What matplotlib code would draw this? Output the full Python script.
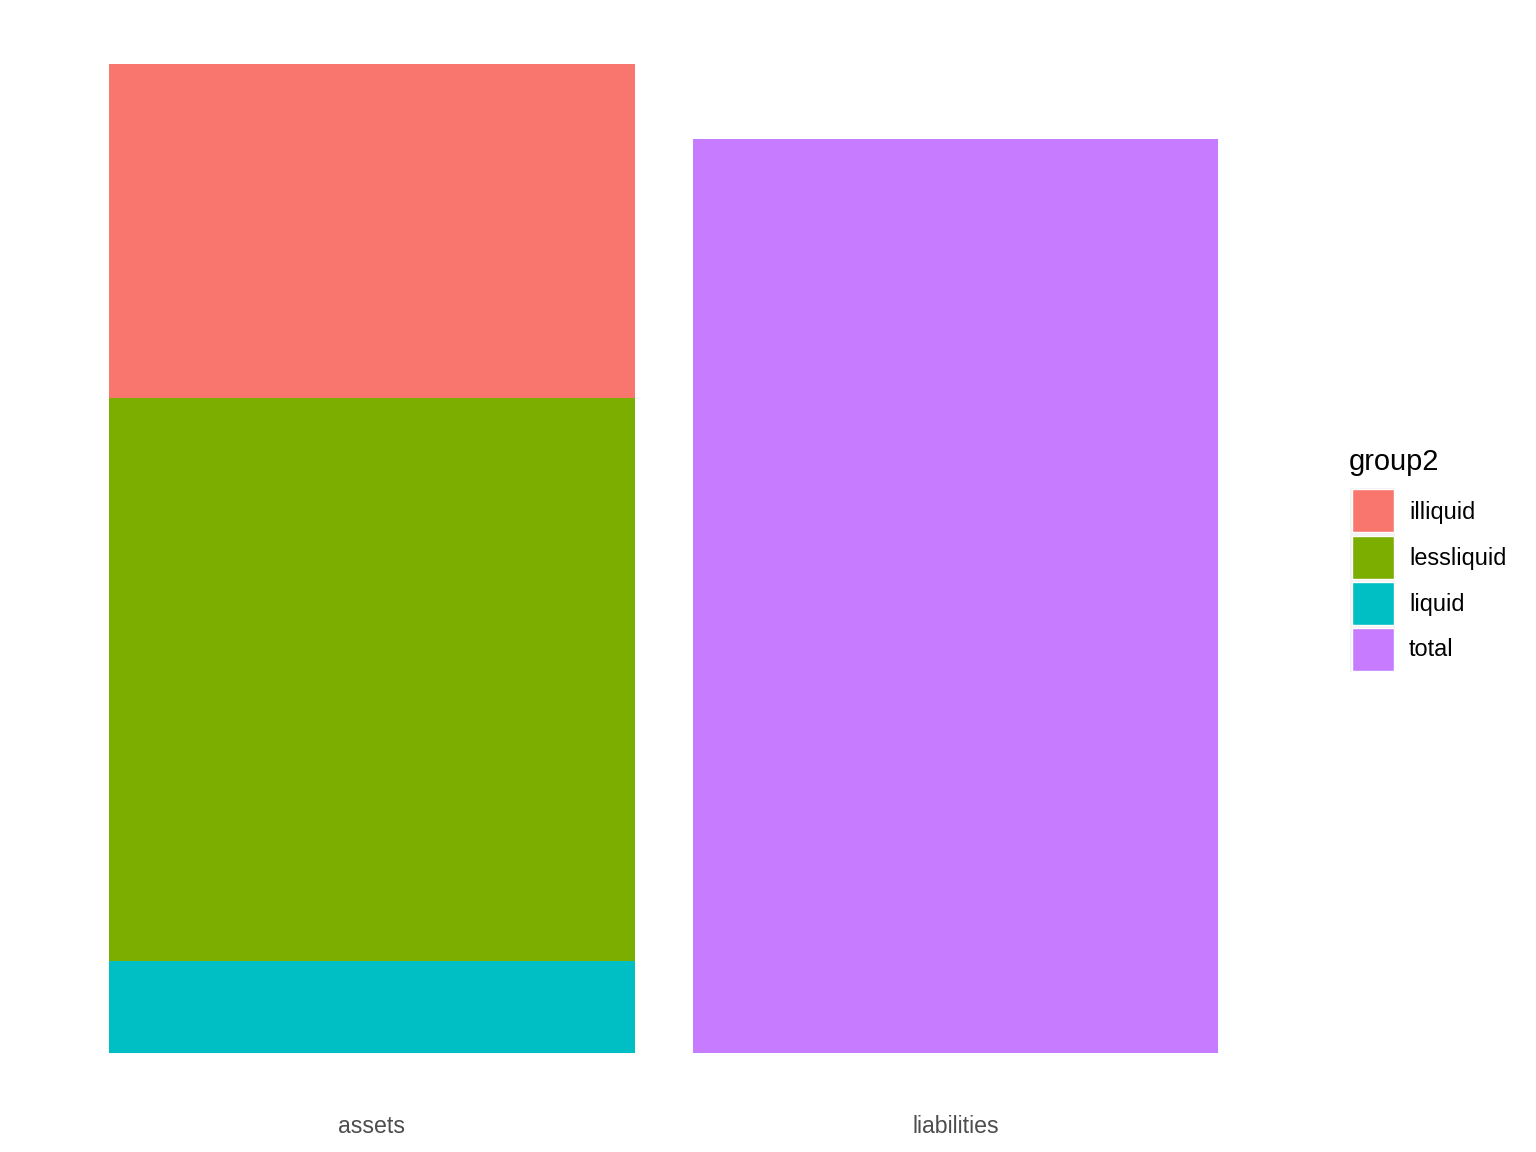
import matplotlib.pyplot as plt
from matplotlib.patches import Rectangle

plt.rcParams['font.family'] = ['Liberation Sans', 'DejaVu Sans']

# data
sides = ["assets", "liabilities"]
groups = ["illiquid", "lessliquid", "liquid", "total"]
colors = ["#F8766D", "#7CAE00", "#00BFC4", "#C77CFF"]
# stacked values per side (group order bottom->top: liquid, lessliquid, illiquid)
assets_liquid = 92
assets_lessliquid = 563
assets_illiquid = 334
liab_total = 914

fig = plt.figure(figsize=(15.36, 11.52), dpi=100)
W, H = 1536, 1152
ax = fig.add_axes([21.9 / W, 49.5 / H, 1283.7 / W, 1088 / H])

x = [0, 1]
col = dict(zip(groups, colors))
ax.bar(x[0], assets_liquid, width=0.9, color=col["liquid"])
ax.bar(x[0], assets_lessliquid, bottom=assets_liquid, width=0.9, color=col["lessliquid"])
ax.bar(x[0], assets_illiquid, bottom=assets_liquid + assets_lessliquid, width=0.9, color=col["illiquid"])
ax.bar(x[1], liab_total, width=0.9, color=col["total"])

tot = assets_liquid + assets_lessliquid + assets_illiquid
ax.set_xlim(-0.6, 1.6)
ax.set_ylim(-0.05 * tot, 1.05 * tot)
for s in ax.spines.values():
    s.set_visible(False)
ax.set_yticks([])
ax.set_xticks(x)
ax.set_xticklabels(sides, fontsize=16.7, color="#4D4D4D")
ax.tick_params(axis="x", length=0, pad=9)

# legend drawn by hand, ggplot style
fig.text(1349 / W, 1 - 462 / H, "group2", fontsize=20.9, va="center", ha="left")
kx, ky0, kh, kw = 1350, 488, 46, 45
fig.add_artist(Rectangle((kx / W, 1 - (ky0 + 4 * kh) / H), kw / W, 4 * kh / H,
                         transform=fig.transFigure, color="#F2F2F2", lw=0))
for i, g in enumerate(groups):
    top = ky0 + i * kh
    fig.add_artist(Rectangle(((kx + 1.5) / W, 1 - (top + kh - 1.5) / H), (kw - 3) / W, (kh - 3) / H,
                             transform=fig.transFigure, facecolor=col[g], edgecolor="white", lw=1))
    fig.text(1409 / W, 1 - (top + kh / 2 + 1) / H, g, fontsize=16.9, va="center", ha="left")

fig.savefig("out.png", dpi=100)
